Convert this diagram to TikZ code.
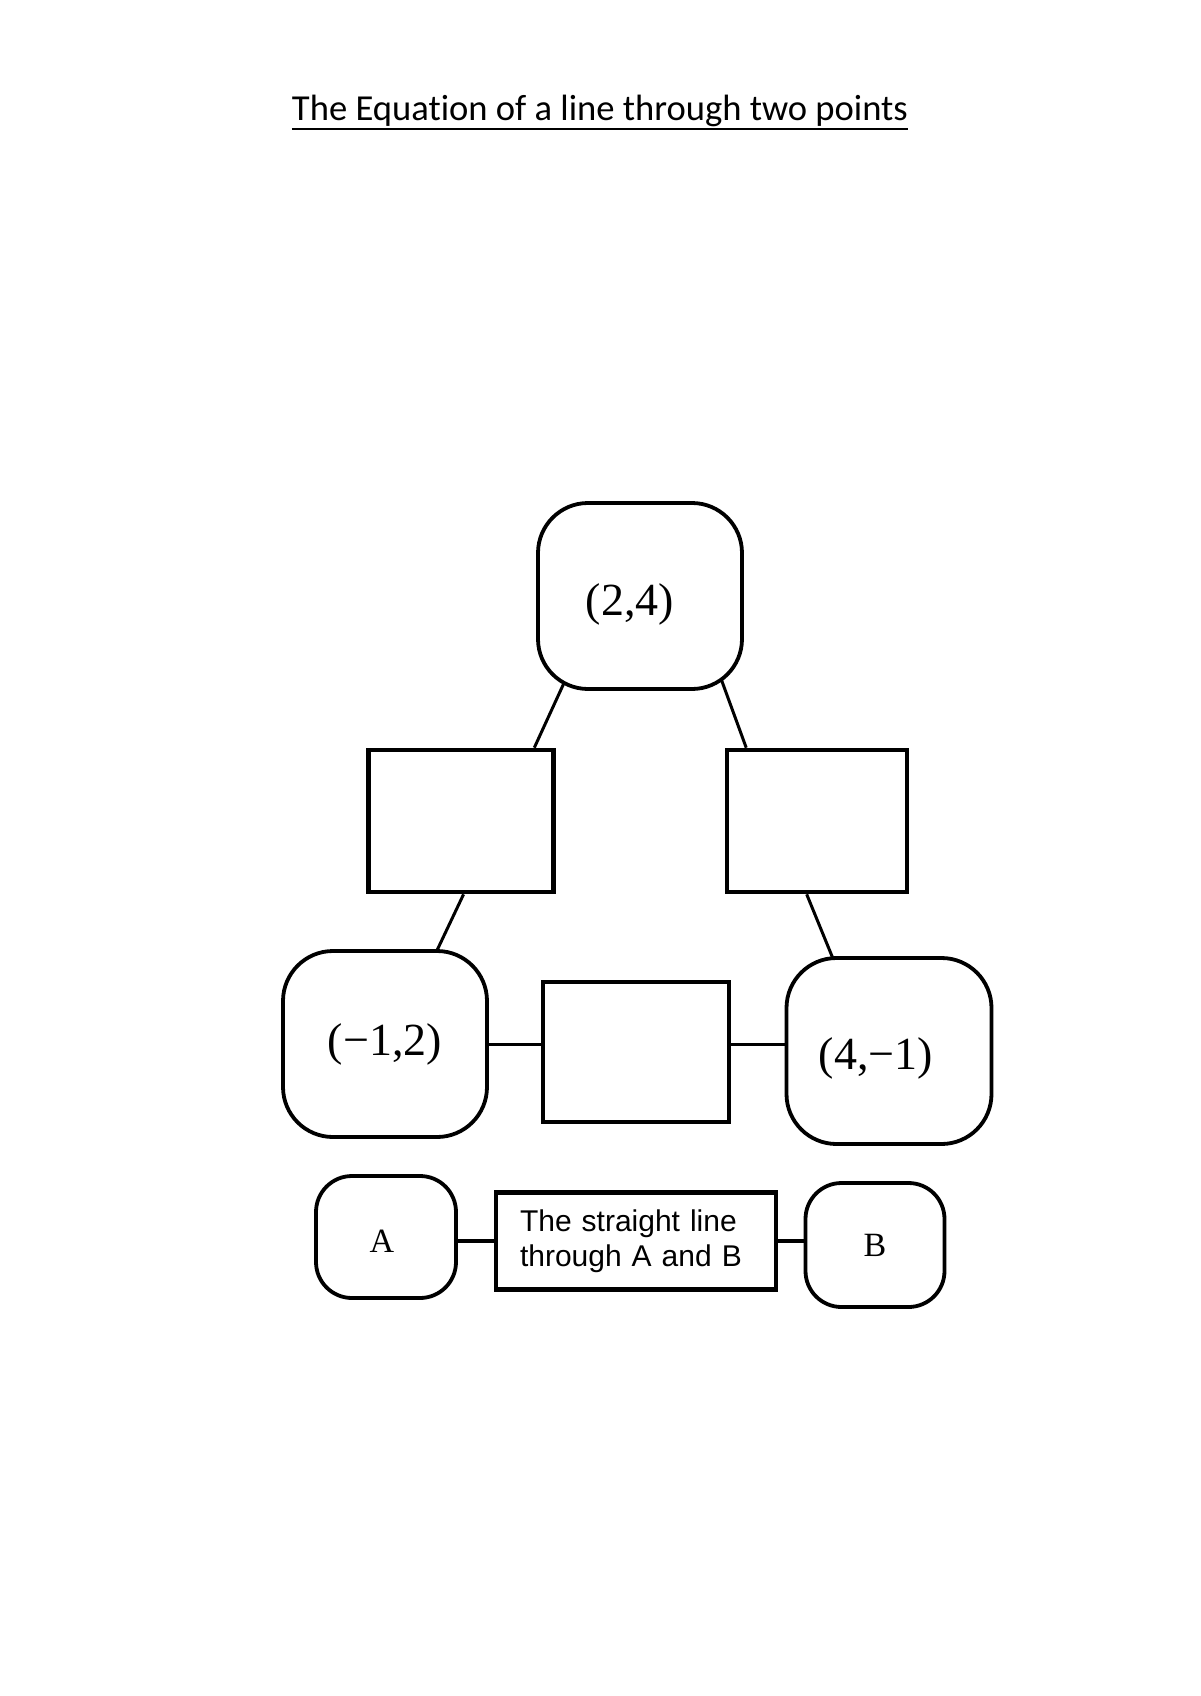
\documentclass[tikz,border=0pt]{standalone}
\usepackage{fontspec}
\setmainfont{Liberation Serif}
\newfontfamily\titlefont[Ligatures=NoCommon]{Carlito}
\newfontfamily\legendfont{Liberation Sans}
\usetikzlibrary{backgrounds}
% underline with a heavier rule
\newcommand{\ttlrule}[1]{\vtop{\hbox{#1}\kern0.4pt\hrule height 1.2pt}}
% move a label inside its box, keeping the box size
\newcommand{\nudge}[3]{\kern#1\raisebox{#2}[\height][\depth]{#3}}
\tikzset{
  % rounded box holding a point
  pnt/.style={
    draw, line width=1.9pt, fill=white,
    rounded corners=25pt, inner sep=0pt,
    minimum width=102pt, minimum height=93pt,
    font=\fontsize{23}{26}\selectfont,
  },
  % small rounded box of the key
  spnt/.style={pnt, rounded corners=18pt,
    minimum width=70pt, minimum height=61pt,
    font=\fontsize{17}{19}\selectfont},
  % empty box to be filled in
  gap/.style={draw, line width=2.3pt, fill=white, inner sep=0pt,
    minimum height=71pt},
  conn/.style={draw, line width=1.5pt},
}

\begin{document}
\begin{tikzpicture}[x=0.5pt,y=-0.5pt]
\useasboundingbox (0,0) rectangle (1200,1696);

% ----- title -----
\node[font=\titlefont\fontsize{18.3}{22}\selectfont] (title) at (600,113)
  {\ttlrule{The Equation of a line through two points}};

% ----- triangle -----
\node[pnt] (top) at (640,596) {\nudge{-10pt}{-4pt}{(2,4)}};
\node[gap, minimum width=92.5pt] (lgap) at (461,821) {};
\node[gap, minimum width=90pt] (rgap) at (817,821) {};
\node[pnt] (left) at (385,1044) {(−1,2)};
\node[gap, minimum width=93pt, minimum height=70pt] (mgap) at (636,1052) {};
\node[pnt, minimum width=102.5pt] (right) at (889,1051)
  {\nudge{-13pt}{-3.5pt}{(4,−1)}};

% ----- key -----
\node[spnt] (ka) at (386,1237) {\nudge{-4pt}{-2pt}{A}};
\node[gap, minimum width=140pt, minimum height=48.5pt,
      text width=116pt, align=left,
      font=\legendfont\fontsize{15}{17.5}\selectfont] (kline) at (636,1241)
  {The straight line\\through A and B};
\node[spnt, minimum width=69.5pt, minimum height=62pt] (kb) at (875,1245) {B};

% ----- connectors (behind the boxes) -----
\begin{scope}[on background layer]
\draw[conn, shorten >=-12pt] (lgap.45) -- (top.-130);
\draw[conn, shorten >=-12pt] (rgap.134) -- (top.-48);
\draw[conn, shorten >=-12pt] (lgap.-88) -- (left.61);
\draw[conn, shorten >=-12pt] (rgap.-98) -- (right.121);
\draw[conn] (left.east) -- (left.east -| mgap.west);
\draw[conn] (left.east -| mgap.east) -- (left.east -| right.west);
\draw[conn, line width=1.9pt] (ka.east |- kline.west) -- (kline.west);
\draw[conn, line width=1.9pt] (kline.east) -- (kline.east -| kb.west);
\end{scope}

\end{tikzpicture}
\end{document}
